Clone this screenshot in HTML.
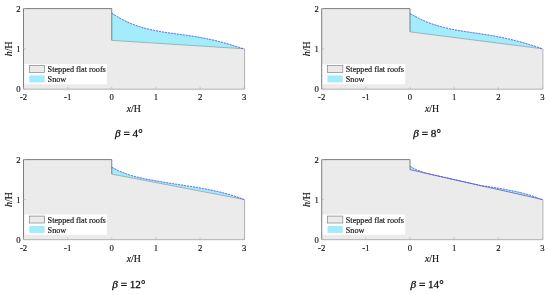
<!DOCTYPE html>
<html><head><meta charset="utf-8"><style>
html,body{margin:0;padding:0;background:#fff;width:550px;height:295px;overflow:hidden}
svg{display:block;filter:blur(0.3px)}
svg text{fill:#111;stroke:#111;stroke-width:0.15px}
</style></head><body>
<svg width="550" height="295" viewBox="0 0 550 295" font-family='"Liberation Serif", "Times New Roman", serif' fill="#262626"><g>
<rect x="23.5" y="8.6" width="220.7" height="80.4" fill="#fff"/>
<polygon points="23.50,89.00 23.50,8.60 111.78,8.60 111.78,40.37 244.20,48.80 244.20,89.00" fill="#ebebeb" stroke="none"/>
<polygon points="111.78,13.11 112.33,13.48 112.88,13.85 113.44,14.22 113.99,14.58 114.54,14.94 115.09,15.29 115.64,15.63 116.19,15.97 116.75,16.31 117.30,16.64 117.85,16.97 118.40,17.29 118.95,17.61 119.50,17.93 120.06,18.23 120.61,18.54 121.16,18.84 121.71,19.14 122.26,19.43 122.81,19.72 123.37,20.00 123.92,20.28 124.47,20.55 125.02,20.82 125.57,21.09 126.13,21.35 126.68,21.61 127.23,21.87 127.78,22.12 128.33,22.37 128.88,22.61 129.44,22.85 129.99,23.09 130.54,23.32 131.09,23.55 131.64,23.77 132.19,23.99 132.75,24.21 133.30,24.43 133.85,24.64 134.40,24.85 134.95,25.05 135.51,25.25 136.06,25.45 136.61,25.64 137.16,25.83 137.71,26.02 138.26,26.21 138.82,26.39 139.37,26.57 139.92,26.75 140.47,26.92 141.02,27.09 141.57,27.26 142.13,27.42 142.68,27.59 143.23,27.74 143.78,27.90 144.33,28.06 144.88,28.21 145.44,28.36 145.99,28.50 146.54,28.65 147.09,28.79 147.64,28.93 148.20,29.06 148.75,29.20 149.30,29.33 149.85,29.46 150.40,29.59 150.95,29.72 151.51,29.84 152.06,29.96 152.61,30.08 153.16,30.20 153.71,30.31 154.26,30.43 154.82,30.54 155.37,30.65 155.92,30.76 156.47,30.87 157.02,30.97 157.58,31.08 158.13,31.18 158.68,31.28 159.23,31.38 159.78,31.48 160.33,31.57 160.89,31.67 161.44,31.76 161.99,31.85 162.54,31.94 163.09,32.03 163.64,32.12 164.20,32.21 164.75,32.30 165.30,32.38 165.85,32.47 166.40,32.55 166.96,32.63 167.51,32.71 168.06,32.79 168.61,32.87 169.16,32.95 169.71,33.03 170.27,33.11 170.82,33.19 171.37,33.26 171.92,33.34 172.47,33.42 173.02,33.49 173.58,33.57 174.13,33.64 174.68,33.72 175.23,33.79 175.78,33.86 176.33,33.94 176.89,34.01 177.44,34.08 177.99,34.16 178.54,34.23 179.09,34.30 179.65,34.38 180.20,34.45 180.75,34.52 181.30,34.60 181.85,34.67 182.40,34.75 182.96,34.82 183.51,34.89 184.06,34.97 184.61,35.05 185.16,35.12 185.71,35.20 186.27,35.28 186.82,35.35 187.37,35.43 187.92,35.51 188.47,35.59 189.03,35.67 189.58,35.75 190.13,35.83 190.68,35.92 191.23,36.00 191.78,36.09 192.34,36.17 192.89,36.26 193.44,36.34 193.99,36.43 194.54,36.52 195.09,36.61 195.65,36.70 196.20,36.79 196.75,36.88 197.30,36.98 197.85,37.07 198.40,37.16 198.96,37.26 199.51,37.36 200.06,37.46 200.61,37.55 201.16,37.65 201.72,37.75 202.27,37.86 202.82,37.96 203.37,38.06 203.92,38.17 204.47,38.27 205.03,38.38 205.58,38.49 206.13,38.60 206.68,38.71 207.23,38.82 207.78,38.93 208.34,39.05 208.89,39.16 209.44,39.28 209.99,39.39 210.54,39.51 211.09,39.63 211.65,39.75 212.20,39.87 212.75,40.00 213.30,40.12 213.85,40.25 214.41,40.37 214.96,40.50 215.51,40.63 216.06,40.76 216.61,40.90 217.16,41.03 217.72,41.16 218.27,41.30 218.82,41.44 219.37,41.58 219.92,41.72 220.47,41.86 221.03,42.00 221.58,42.15 222.13,42.29 222.68,42.44 223.23,42.59 223.79,42.74 224.34,42.89 224.89,43.04 225.44,43.20 225.99,43.36 226.54,43.51 227.10,43.67 227.65,43.83 228.20,44.00 228.75,44.16 229.30,44.33 229.85,44.49 230.41,44.66 230.96,44.83 231.51,45.00 232.06,45.18 232.61,45.35 233.16,45.53 233.72,45.70 234.27,45.88 234.82,46.06 235.37,46.24 235.92,46.41 236.48,46.59 237.03,46.77 237.58,46.94 238.13,47.11 238.68,47.28 239.23,47.45 239.79,47.62 240.34,47.78 240.89,47.94 241.44,48.10 241.99,48.25 242.54,48.40 243.10,48.54 243.65,48.68 244.20,48.80 244.20,48.80 111.78,40.37" fill="#a2ecfb" stroke="none"/>
<polyline points="23.50,89.00 23.50,8.60 111.78,8.60 111.78,40.37" fill="none" stroke="#707070" stroke-width="0.9"/>
<line x1="111.78" y1="40.37" x2="244.20" y2="48.80" stroke="#84a2a8" stroke-width="0.75"/>
<polyline points="244.60,48.80 244.60,89.20 23.50,89.20" fill="none" stroke="#a8a8a8" stroke-width="0.9"/>
<polyline points="111.78,13.11 112.33,13.48 112.88,13.85 113.44,14.22 113.99,14.58 114.54,14.94 115.09,15.29 115.64,15.63 116.19,15.97 116.75,16.31 117.30,16.64 117.85,16.97 118.40,17.29 118.95,17.61 119.50,17.93 120.06,18.23 120.61,18.54 121.16,18.84 121.71,19.14 122.26,19.43 122.81,19.72 123.37,20.00 123.92,20.28 124.47,20.55 125.02,20.82 125.57,21.09 126.13,21.35 126.68,21.61 127.23,21.87 127.78,22.12 128.33,22.37 128.88,22.61 129.44,22.85 129.99,23.09 130.54,23.32 131.09,23.55 131.64,23.77 132.19,23.99 132.75,24.21 133.30,24.43 133.85,24.64 134.40,24.85 134.95,25.05 135.51,25.25 136.06,25.45 136.61,25.64 137.16,25.83 137.71,26.02 138.26,26.21 138.82,26.39 139.37,26.57 139.92,26.75 140.47,26.92 141.02,27.09 141.57,27.26 142.13,27.42 142.68,27.59 143.23,27.74 143.78,27.90 144.33,28.06 144.88,28.21 145.44,28.36 145.99,28.50 146.54,28.65 147.09,28.79 147.64,28.93 148.20,29.06 148.75,29.20 149.30,29.33 149.85,29.46 150.40,29.59 150.95,29.72 151.51,29.84 152.06,29.96 152.61,30.08 153.16,30.20 153.71,30.31 154.26,30.43 154.82,30.54 155.37,30.65 155.92,30.76 156.47,30.87 157.02,30.97 157.58,31.08 158.13,31.18 158.68,31.28 159.23,31.38 159.78,31.48 160.33,31.57 160.89,31.67 161.44,31.76 161.99,31.85 162.54,31.94 163.09,32.03 163.64,32.12 164.20,32.21 164.75,32.30 165.30,32.38 165.85,32.47 166.40,32.55 166.96,32.63 167.51,32.71 168.06,32.79 168.61,32.87 169.16,32.95 169.71,33.03 170.27,33.11 170.82,33.19 171.37,33.26 171.92,33.34 172.47,33.42 173.02,33.49 173.58,33.57 174.13,33.64 174.68,33.72 175.23,33.79 175.78,33.86 176.33,33.94 176.89,34.01 177.44,34.08 177.99,34.16 178.54,34.23 179.09,34.30 179.65,34.38 180.20,34.45 180.75,34.52 181.30,34.60 181.85,34.67 182.40,34.75 182.96,34.82 183.51,34.89 184.06,34.97 184.61,35.05 185.16,35.12 185.71,35.20 186.27,35.28 186.82,35.35 187.37,35.43 187.92,35.51 188.47,35.59 189.03,35.67 189.58,35.75 190.13,35.83 190.68,35.92 191.23,36.00 191.78,36.09 192.34,36.17 192.89,36.26 193.44,36.34 193.99,36.43 194.54,36.52 195.09,36.61 195.65,36.70 196.20,36.79 196.75,36.88 197.30,36.98 197.85,37.07 198.40,37.16 198.96,37.26 199.51,37.36 200.06,37.46 200.61,37.55 201.16,37.65 201.72,37.75 202.27,37.86 202.82,37.96 203.37,38.06 203.92,38.17 204.47,38.27 205.03,38.38 205.58,38.49 206.13,38.60 206.68,38.71 207.23,38.82 207.78,38.93 208.34,39.05 208.89,39.16 209.44,39.28 209.99,39.39 210.54,39.51 211.09,39.63 211.65,39.75 212.20,39.87 212.75,40.00 213.30,40.12 213.85,40.25 214.41,40.37 214.96,40.50 215.51,40.63 216.06,40.76 216.61,40.90 217.16,41.03 217.72,41.16 218.27,41.30 218.82,41.44 219.37,41.58 219.92,41.72 220.47,41.86 221.03,42.00 221.58,42.15 222.13,42.29 222.68,42.44 223.23,42.59 223.79,42.74 224.34,42.89 224.89,43.04 225.44,43.20 225.99,43.36 226.54,43.51 227.10,43.67 227.65,43.83 228.20,44.00 228.75,44.16 229.30,44.33 229.85,44.49 230.41,44.66 230.96,44.83 231.51,45.00 232.06,45.18 232.61,45.35 233.16,45.53 233.72,45.70 234.27,45.88 234.82,46.06 235.37,46.24 235.92,46.41 236.48,46.59 237.03,46.77 237.58,46.94 238.13,47.11 238.68,47.28 239.23,47.45 239.79,47.62 240.34,47.78 240.89,47.94 241.44,48.10 241.99,48.25 242.54,48.40 243.10,48.54 243.65,48.68 244.20,48.80" fill="none" stroke="#4a4ae6" stroke-width="1.0" stroke-dasharray="2,1"/>
<line x1="23.50" y1="89.0" x2="23.50" y2="86.8" stroke="#b0b0b0" stroke-width="0.6"/>
<line x1="67.64" y1="89.0" x2="67.64" y2="86.8" stroke="#b0b0b0" stroke-width="0.6"/>
<line x1="111.78" y1="89.0" x2="111.78" y2="86.8" stroke="#b0b0b0" stroke-width="0.6"/>
<line x1="155.92" y1="89.0" x2="155.92" y2="86.8" stroke="#b0b0b0" stroke-width="0.6"/>
<line x1="200.06" y1="89.0" x2="200.06" y2="86.8" stroke="#b0b0b0" stroke-width="0.6"/>
<line x1="244.20" y1="89.0" x2="244.20" y2="86.8" stroke="#b0b0b0" stroke-width="0.6"/>
<line x1="23.5" y1="89.00" x2="25.7" y2="89.00" stroke="#b0b0b0" stroke-width="0.6"/>
<line x1="23.5" y1="48.80" x2="25.7" y2="48.80" stroke="#b0b0b0" stroke-width="0.6"/>
<line x1="23.5" y1="8.60" x2="25.7" y2="8.60" stroke="#b0b0b0" stroke-width="0.6"/>
<rect x="24.50" y="64.00" width="82.5" height="20.3" fill="#fff" stroke="none"/>
<rect x="29.30" y="65.60" width="15.3" height="6.9" fill="#ebebeb" stroke="#858585" stroke-width="0.7"/>
<rect x="29.30" y="75.40" width="15.3" height="7.0" fill="#a2ecfb" stroke="none"/>
<text x="47.60" y="72.30" font-size="8.2">Stepped flat roofs</text>
<text x="47.60" y="82.00" font-size="8.2">Snow</text>
<text x="23.50" y="100.40" font-size="8.7" text-anchor="middle">-2</text>
<text x="67.64" y="100.40" font-size="8.7" text-anchor="middle">-1</text>
<text x="111.78" y="100.40" font-size="8.7" text-anchor="middle">0</text>
<text x="155.92" y="100.40" font-size="8.7" text-anchor="middle">1</text>
<text x="200.06" y="100.40" font-size="8.7" text-anchor="middle">2</text>
<text x="244.20" y="100.40" font-size="8.7" text-anchor="middle">3</text>
<text x="20.70" y="92.35" font-size="8.7" text-anchor="end">0</text>
<text x="20.70" y="52.15" font-size="8.7" text-anchor="end">1</text>
<text x="20.70" y="11.95" font-size="8.7" text-anchor="end">2</text>
<text x="133.85" y="111.50" font-size="9.8" text-anchor="middle"><tspan font-style="italic">x</tspan>/H</text>
<text transform="translate(11.90,48.80) rotate(-90)" font-size="9.8" text-anchor="middle"><tspan font-style="italic">h</tspan>/H</text>
<text x="128.85" y="137.30" font-size="11.2" text-anchor="middle" style="stroke-width:0.3px"><tspan font-style="italic">β</tspan> = 4°</text>
</g>
<g>
<rect x="321.7" y="8.6" width="220.8" height="80.4" fill="#fff"/>
<polygon points="321.70,89.00 321.70,8.60 410.02,8.60 410.02,31.85 542.50,48.80 542.50,89.00" fill="#ebebeb" stroke="none"/>
<polygon points="410.02,13.51 410.57,13.85 411.12,14.18 411.68,14.51 412.23,14.83 412.78,15.15 413.33,15.47 413.88,15.78 414.44,16.09 414.99,16.39 415.54,16.69 416.09,16.98 416.64,17.27 417.20,17.56 417.75,17.84 418.30,18.12 418.85,18.40 419.40,18.67 419.96,18.93 420.51,19.20 421.06,19.46 421.61,19.71 422.16,19.97 422.72,20.21 423.27,20.46 423.82,20.70 424.37,20.94 424.92,21.17 425.48,21.41 426.03,21.63 426.58,21.86 427.13,22.08 427.68,22.30 428.24,22.51 428.79,22.72 429.34,22.93 429.89,23.14 430.44,23.34 431.00,23.54 431.55,23.74 432.10,23.93 432.65,24.12 433.20,24.31 433.76,24.49 434.31,24.67 434.86,24.85 435.41,25.03 435.96,25.20 436.52,25.37 437.07,25.54 437.62,25.71 438.17,25.87 438.72,26.03 439.28,26.19 439.83,26.35 440.38,26.50 440.93,26.65 441.48,26.80 442.04,26.95 442.59,27.09 443.14,27.23 443.69,27.37 444.24,27.51 444.80,27.65 445.35,27.78 445.90,27.91 446.45,28.04 447.00,28.17 447.56,28.29 448.11,28.42 448.66,28.54 449.21,28.66 449.76,28.78 450.32,28.90 450.87,29.01 451.42,29.13 451.97,29.24 452.52,29.35 453.08,29.46 453.63,29.56 454.18,29.67 454.73,29.78 455.28,29.88 455.84,29.98 456.39,30.08 456.94,30.18 457.49,30.28 458.04,30.38 458.60,30.47 459.15,30.57 459.70,30.66 460.25,30.75 460.80,30.85 461.36,30.94 461.91,31.03 462.46,31.12 463.01,31.20 463.56,31.29 464.12,31.38 464.67,31.47 465.22,31.55 465.77,31.64 466.32,31.72 466.88,31.80 467.43,31.89 467.98,31.97 468.53,32.05 469.08,32.13 469.64,32.21 470.19,32.30 470.74,32.38 471.29,32.46 471.84,32.54 472.40,32.62 472.95,32.70 473.50,32.78 474.05,32.86 474.60,32.94 475.16,33.02 475.71,33.10 476.26,33.18 476.81,33.26 477.36,33.34 477.92,33.42 478.47,33.50 479.02,33.58 479.57,33.66 480.12,33.74 480.68,33.82 481.23,33.90 481.78,33.99 482.33,34.07 482.88,34.15 483.44,34.24 483.99,34.32 484.54,34.41 485.09,34.50 485.64,34.58 486.20,34.67 486.75,34.76 487.30,34.85 487.85,34.94 488.40,35.03 488.96,35.12 489.51,35.22 490.06,35.31 490.61,35.40 491.16,35.50 491.72,35.60 492.27,35.69 492.82,35.79 493.37,35.89 493.92,35.99 494.48,36.09 495.03,36.19 495.58,36.29 496.13,36.40 496.68,36.50 497.24,36.61 497.79,36.71 498.34,36.82 498.89,36.93 499.44,37.04 500.00,37.15 500.55,37.26 501.10,37.37 501.65,37.48 502.20,37.59 502.76,37.71 503.31,37.82 503.86,37.94 504.41,38.06 504.96,38.18 505.52,38.30 506.07,38.42 506.62,38.54 507.17,38.66 507.72,38.78 508.28,38.91 508.83,39.03 509.38,39.16 509.93,39.29 510.48,39.42 511.04,39.55 511.59,39.68 512.14,39.81 512.69,39.94 513.24,40.08 513.80,40.21 514.35,40.35 514.90,40.49 515.45,40.63 516.00,40.77 516.56,40.91 517.11,41.05 517.66,41.19 518.21,41.34 518.76,41.48 519.32,41.63 519.87,41.78 520.42,41.93 520.97,42.08 521.52,42.23 522.08,42.38 522.63,42.53 523.18,42.69 523.73,42.84 524.28,43.00 524.84,43.16 525.39,43.32 525.94,43.48 526.49,43.64 527.04,43.81 527.60,43.97 528.15,44.14 528.70,44.30 529.25,44.47 529.80,44.64 530.36,44.81 530.91,44.98 531.46,45.16 532.01,45.33 532.56,45.51 533.12,45.68 533.67,45.86 534.22,46.04 534.77,46.22 535.32,46.40 535.88,46.58 536.43,46.76 536.98,46.95 537.53,47.13 538.08,47.32 538.64,47.50 539.19,47.69 539.74,47.87 540.29,48.06 540.84,48.25 541.40,48.44 541.95,48.63 542.50,48.80 542.50,48.80 410.02,31.85" fill="#a2ecfb" stroke="none"/>
<polyline points="321.70,89.00 321.70,8.60 410.02,8.60 410.02,31.85" fill="none" stroke="#707070" stroke-width="0.9"/>
<line x1="410.02" y1="31.85" x2="542.50" y2="48.80" stroke="#84a2a8" stroke-width="0.75"/>
<polyline points="542.90,48.80 542.90,89.20 321.70,89.20" fill="none" stroke="#a8a8a8" stroke-width="0.9"/>
<polyline points="410.02,13.51 410.57,13.85 411.12,14.18 411.68,14.51 412.23,14.83 412.78,15.15 413.33,15.47 413.88,15.78 414.44,16.09 414.99,16.39 415.54,16.69 416.09,16.98 416.64,17.27 417.20,17.56 417.75,17.84 418.30,18.12 418.85,18.40 419.40,18.67 419.96,18.93 420.51,19.20 421.06,19.46 421.61,19.71 422.16,19.97 422.72,20.21 423.27,20.46 423.82,20.70 424.37,20.94 424.92,21.17 425.48,21.41 426.03,21.63 426.58,21.86 427.13,22.08 427.68,22.30 428.24,22.51 428.79,22.72 429.34,22.93 429.89,23.14 430.44,23.34 431.00,23.54 431.55,23.74 432.10,23.93 432.65,24.12 433.20,24.31 433.76,24.49 434.31,24.67 434.86,24.85 435.41,25.03 435.96,25.20 436.52,25.37 437.07,25.54 437.62,25.71 438.17,25.87 438.72,26.03 439.28,26.19 439.83,26.35 440.38,26.50 440.93,26.65 441.48,26.80 442.04,26.95 442.59,27.09 443.14,27.23 443.69,27.37 444.24,27.51 444.80,27.65 445.35,27.78 445.90,27.91 446.45,28.04 447.00,28.17 447.56,28.29 448.11,28.42 448.66,28.54 449.21,28.66 449.76,28.78 450.32,28.90 450.87,29.01 451.42,29.13 451.97,29.24 452.52,29.35 453.08,29.46 453.63,29.56 454.18,29.67 454.73,29.78 455.28,29.88 455.84,29.98 456.39,30.08 456.94,30.18 457.49,30.28 458.04,30.38 458.60,30.47 459.15,30.57 459.70,30.66 460.25,30.75 460.80,30.85 461.36,30.94 461.91,31.03 462.46,31.12 463.01,31.20 463.56,31.29 464.12,31.38 464.67,31.47 465.22,31.55 465.77,31.64 466.32,31.72 466.88,31.80 467.43,31.89 467.98,31.97 468.53,32.05 469.08,32.13 469.64,32.21 470.19,32.30 470.74,32.38 471.29,32.46 471.84,32.54 472.40,32.62 472.95,32.70 473.50,32.78 474.05,32.86 474.60,32.94 475.16,33.02 475.71,33.10 476.26,33.18 476.81,33.26 477.36,33.34 477.92,33.42 478.47,33.50 479.02,33.58 479.57,33.66 480.12,33.74 480.68,33.82 481.23,33.90 481.78,33.99 482.33,34.07 482.88,34.15 483.44,34.24 483.99,34.32 484.54,34.41 485.09,34.50 485.64,34.58 486.20,34.67 486.75,34.76 487.30,34.85 487.85,34.94 488.40,35.03 488.96,35.12 489.51,35.22 490.06,35.31 490.61,35.40 491.16,35.50 491.72,35.60 492.27,35.69 492.82,35.79 493.37,35.89 493.92,35.99 494.48,36.09 495.03,36.19 495.58,36.29 496.13,36.40 496.68,36.50 497.24,36.61 497.79,36.71 498.34,36.82 498.89,36.93 499.44,37.04 500.00,37.15 500.55,37.26 501.10,37.37 501.65,37.48 502.20,37.59 502.76,37.71 503.31,37.82 503.86,37.94 504.41,38.06 504.96,38.18 505.52,38.30 506.07,38.42 506.62,38.54 507.17,38.66 507.72,38.78 508.28,38.91 508.83,39.03 509.38,39.16 509.93,39.29 510.48,39.42 511.04,39.55 511.59,39.68 512.14,39.81 512.69,39.94 513.24,40.08 513.80,40.21 514.35,40.35 514.90,40.49 515.45,40.63 516.00,40.77 516.56,40.91 517.11,41.05 517.66,41.19 518.21,41.34 518.76,41.48 519.32,41.63 519.87,41.78 520.42,41.93 520.97,42.08 521.52,42.23 522.08,42.38 522.63,42.53 523.18,42.69 523.73,42.84 524.28,43.00 524.84,43.16 525.39,43.32 525.94,43.48 526.49,43.64 527.04,43.81 527.60,43.97 528.15,44.14 528.70,44.30 529.25,44.47 529.80,44.64 530.36,44.81 530.91,44.98 531.46,45.16 532.01,45.33 532.56,45.51 533.12,45.68 533.67,45.86 534.22,46.04 534.77,46.22 535.32,46.40 535.88,46.58 536.43,46.76 536.98,46.95 537.53,47.13 538.08,47.32 538.64,47.50 539.19,47.69 539.74,47.87 540.29,48.06 540.84,48.25 541.40,48.44 541.95,48.63 542.50,48.80" fill="none" stroke="#4a4ae6" stroke-width="1.0" stroke-dasharray="2,1"/>
<line x1="321.70" y1="89.0" x2="321.70" y2="86.8" stroke="#b0b0b0" stroke-width="0.6"/>
<line x1="365.86" y1="89.0" x2="365.86" y2="86.8" stroke="#b0b0b0" stroke-width="0.6"/>
<line x1="410.02" y1="89.0" x2="410.02" y2="86.8" stroke="#b0b0b0" stroke-width="0.6"/>
<line x1="454.18" y1="89.0" x2="454.18" y2="86.8" stroke="#b0b0b0" stroke-width="0.6"/>
<line x1="498.34" y1="89.0" x2="498.34" y2="86.8" stroke="#b0b0b0" stroke-width="0.6"/>
<line x1="542.50" y1="89.0" x2="542.50" y2="86.8" stroke="#b0b0b0" stroke-width="0.6"/>
<line x1="321.7" y1="89.00" x2="323.9" y2="89.00" stroke="#b0b0b0" stroke-width="0.6"/>
<line x1="321.7" y1="48.80" x2="323.9" y2="48.80" stroke="#b0b0b0" stroke-width="0.6"/>
<line x1="321.7" y1="8.60" x2="323.9" y2="8.60" stroke="#b0b0b0" stroke-width="0.6"/>
<rect x="322.70" y="64.00" width="82.5" height="20.3" fill="#fff" stroke="none"/>
<rect x="327.50" y="65.60" width="15.3" height="6.9" fill="#ebebeb" stroke="#858585" stroke-width="0.7"/>
<rect x="327.50" y="75.40" width="15.3" height="7.0" fill="#a2ecfb" stroke="none"/>
<text x="345.80" y="72.30" font-size="8.2">Stepped flat roofs</text>
<text x="345.80" y="82.00" font-size="8.2">Snow</text>
<text x="321.70" y="100.40" font-size="8.7" text-anchor="middle">-2</text>
<text x="365.86" y="100.40" font-size="8.7" text-anchor="middle">-1</text>
<text x="410.02" y="100.40" font-size="8.7" text-anchor="middle">0</text>
<text x="454.18" y="100.40" font-size="8.7" text-anchor="middle">1</text>
<text x="498.34" y="100.40" font-size="8.7" text-anchor="middle">2</text>
<text x="542.50" y="100.40" font-size="8.7" text-anchor="middle">3</text>
<text x="318.90" y="92.35" font-size="8.7" text-anchor="end">0</text>
<text x="318.90" y="52.15" font-size="8.7" text-anchor="end">1</text>
<text x="318.90" y="11.95" font-size="8.7" text-anchor="end">2</text>
<text x="432.10" y="111.50" font-size="9.8" text-anchor="middle"><tspan font-style="italic">x</tspan>/H</text>
<text transform="translate(310.10,48.80) rotate(-90)" font-size="9.8" text-anchor="middle"><tspan font-style="italic">h</tspan>/H</text>
<text x="427.10" y="137.30" font-size="11.2" text-anchor="middle" style="stroke-width:0.3px"><tspan font-style="italic">β</tspan> = 8°</text>
</g>
<g>
<rect x="23.5" y="159.6" width="220.7" height="79.9" fill="#fff"/>
<polygon points="23.50,239.50 23.50,159.60 111.78,159.60 111.78,174.08 244.20,199.55 244.20,239.50" fill="#ebebeb" stroke="none"/>
<polygon points="111.78,167.20 112.33,167.52 112.88,167.83 113.44,168.14 113.99,168.44 114.54,168.73 115.09,169.02 115.64,169.31 116.19,169.58 116.75,169.86 117.30,170.13 117.85,170.39 118.40,170.65 118.95,170.90 119.50,171.15 120.06,171.40 120.61,171.64 121.16,171.87 121.71,172.10 122.26,172.33 122.81,172.55 123.37,172.77 123.92,172.98 124.47,173.19 125.02,173.40 125.57,173.60 126.13,173.80 126.68,173.99 127.23,174.18 127.78,174.37 128.33,174.55 128.88,174.73 129.44,174.91 129.99,175.08 130.54,175.25 131.09,175.42 131.64,175.58 132.19,175.75 132.75,175.90 133.30,176.06 133.85,176.21 134.40,176.36 134.95,176.51 135.51,176.65 136.06,176.79 136.61,176.93 137.16,177.07 137.71,177.21 138.26,177.34 138.82,177.47 139.37,177.60 139.92,177.73 140.47,177.85 141.02,177.98 141.57,178.10 142.13,178.22 142.68,178.34 143.23,178.46 143.78,178.57 144.33,178.69 144.88,178.80 145.44,178.92 145.99,179.03 146.54,179.14 147.09,179.25 147.64,179.36 148.20,179.47 148.75,179.57 149.30,179.68 149.85,179.79 150.40,179.89 150.95,180.00 151.51,180.10 152.06,180.20 152.61,180.31 153.16,180.41 153.71,180.51 154.26,180.61 154.82,180.71 155.37,180.81 155.92,180.90 156.47,181.00 157.02,181.10 157.58,181.20 158.13,181.29 158.68,181.39 159.23,181.48 159.78,181.58 160.33,181.67 160.89,181.76 161.44,181.86 161.99,181.95 162.54,182.04 163.09,182.13 163.64,182.22 164.20,182.31 164.75,182.40 165.30,182.49 165.85,182.58 166.40,182.67 166.96,182.76 167.51,182.85 168.06,182.94 168.61,183.02 169.16,183.11 169.71,183.20 170.27,183.28 170.82,183.37 171.37,183.46 171.92,183.54 172.47,183.63 173.02,183.72 173.58,183.80 174.13,183.89 174.68,183.97 175.23,184.06 175.78,184.14 176.33,184.23 176.89,184.31 177.44,184.40 177.99,184.48 178.54,184.57 179.09,184.65 179.65,184.74 180.20,184.82 180.75,184.91 181.30,184.99 181.85,185.07 182.40,185.16 182.96,185.24 183.51,185.33 184.06,185.41 184.61,185.50 185.16,185.59 185.71,185.67 186.27,185.76 186.82,185.84 187.37,185.93 187.92,186.01 188.47,186.10 189.03,186.19 189.58,186.27 190.13,186.36 190.68,186.45 191.23,186.54 191.78,186.63 192.34,186.71 192.89,186.80 193.44,186.89 193.99,186.98 194.54,187.07 195.09,187.16 195.65,187.26 196.20,187.35 196.75,187.44 197.30,187.53 197.85,187.63 198.40,187.72 198.96,187.82 199.51,187.91 200.06,188.01 200.61,188.10 201.16,188.20 201.72,188.30 202.27,188.40 202.82,188.50 203.37,188.60 203.92,188.70 204.47,188.80 205.03,188.91 205.58,189.01 206.13,189.11 206.68,189.22 207.23,189.33 207.78,189.43 208.34,189.54 208.89,189.65 209.44,189.76 209.99,189.87 210.54,189.98 211.09,190.10 211.65,190.21 212.20,190.33 212.75,190.44 213.30,190.56 213.85,190.68 214.41,190.80 214.96,190.92 215.51,191.04 216.06,191.17 216.61,191.29 217.16,191.42 217.72,191.54 218.27,191.67 218.82,191.80 219.37,191.93 219.92,192.07 220.47,192.20 221.03,192.34 221.58,192.47 222.13,192.61 222.68,192.75 223.23,192.89 223.79,193.04 224.34,193.18 224.89,193.33 225.44,193.47 225.99,193.62 226.54,193.77 227.10,193.92 227.65,194.08 228.20,194.23 228.75,194.39 229.30,194.55 229.85,194.71 230.41,194.87 230.96,195.04 231.51,195.20 232.06,195.37 232.61,195.54 233.16,195.71 233.72,195.88 234.27,196.06 234.82,196.23 235.37,196.41 235.92,196.59 236.48,196.78 237.03,196.96 237.58,197.15 238.13,197.34 238.68,197.53 239.23,197.72 239.79,197.91 240.34,198.11 240.89,198.31 241.44,198.51 241.99,198.71 242.54,198.92 243.10,199.13 243.65,199.34 244.20,199.55 244.20,199.55 111.78,174.08" fill="#a2ecfb" stroke="none"/>
<polyline points="23.50,239.50 23.50,159.60 111.78,159.60 111.78,174.08" fill="none" stroke="#707070" stroke-width="0.9"/>
<line x1="111.78" y1="174.08" x2="244.20" y2="199.55" stroke="#84a2a8" stroke-width="0.75"/>
<polyline points="244.60,199.55 244.60,239.70 23.50,239.70" fill="none" stroke="#a8a8a8" stroke-width="0.9"/>
<polyline points="111.78,167.20 112.33,167.52 112.88,167.83 113.44,168.14 113.99,168.44 114.54,168.73 115.09,169.02 115.64,169.31 116.19,169.58 116.75,169.86 117.30,170.13 117.85,170.39 118.40,170.65 118.95,170.90 119.50,171.15 120.06,171.40 120.61,171.64 121.16,171.87 121.71,172.10 122.26,172.33 122.81,172.55 123.37,172.77 123.92,172.98 124.47,173.19 125.02,173.40 125.57,173.60 126.13,173.80 126.68,173.99 127.23,174.18 127.78,174.37 128.33,174.55 128.88,174.73 129.44,174.91 129.99,175.08 130.54,175.25 131.09,175.42 131.64,175.58 132.19,175.75 132.75,175.90 133.30,176.06 133.85,176.21 134.40,176.36 134.95,176.51 135.51,176.65 136.06,176.79 136.61,176.93 137.16,177.07 137.71,177.21 138.26,177.34 138.82,177.47 139.37,177.60 139.92,177.73 140.47,177.85 141.02,177.98 141.57,178.10 142.13,178.22 142.68,178.34 143.23,178.46 143.78,178.57 144.33,178.69 144.88,178.80 145.44,178.92 145.99,179.03 146.54,179.14 147.09,179.25 147.64,179.36 148.20,179.47 148.75,179.57 149.30,179.68 149.85,179.79 150.40,179.89 150.95,180.00 151.51,180.10 152.06,180.20 152.61,180.31 153.16,180.41 153.71,180.51 154.26,180.61 154.82,180.71 155.37,180.81 155.92,180.90 156.47,181.00 157.02,181.10 157.58,181.20 158.13,181.29 158.68,181.39 159.23,181.48 159.78,181.58 160.33,181.67 160.89,181.76 161.44,181.86 161.99,181.95 162.54,182.04 163.09,182.13 163.64,182.22 164.20,182.31 164.75,182.40 165.30,182.49 165.85,182.58 166.40,182.67 166.96,182.76 167.51,182.85 168.06,182.94 168.61,183.02 169.16,183.11 169.71,183.20 170.27,183.28 170.82,183.37 171.37,183.46 171.92,183.54 172.47,183.63 173.02,183.72 173.58,183.80 174.13,183.89 174.68,183.97 175.23,184.06 175.78,184.14 176.33,184.23 176.89,184.31 177.44,184.40 177.99,184.48 178.54,184.57 179.09,184.65 179.65,184.74 180.20,184.82 180.75,184.91 181.30,184.99 181.85,185.07 182.40,185.16 182.96,185.24 183.51,185.33 184.06,185.41 184.61,185.50 185.16,185.59 185.71,185.67 186.27,185.76 186.82,185.84 187.37,185.93 187.92,186.01 188.47,186.10 189.03,186.19 189.58,186.27 190.13,186.36 190.68,186.45 191.23,186.54 191.78,186.63 192.34,186.71 192.89,186.80 193.44,186.89 193.99,186.98 194.54,187.07 195.09,187.16 195.65,187.26 196.20,187.35 196.75,187.44 197.30,187.53 197.85,187.63 198.40,187.72 198.96,187.82 199.51,187.91 200.06,188.01 200.61,188.10 201.16,188.20 201.72,188.30 202.27,188.40 202.82,188.50 203.37,188.60 203.92,188.70 204.47,188.80 205.03,188.91 205.58,189.01 206.13,189.11 206.68,189.22 207.23,189.33 207.78,189.43 208.34,189.54 208.89,189.65 209.44,189.76 209.99,189.87 210.54,189.98 211.09,190.10 211.65,190.21 212.20,190.33 212.75,190.44 213.30,190.56 213.85,190.68 214.41,190.80 214.96,190.92 215.51,191.04 216.06,191.17 216.61,191.29 217.16,191.42 217.72,191.54 218.27,191.67 218.82,191.80 219.37,191.93 219.92,192.07 220.47,192.20 221.03,192.34 221.58,192.47 222.13,192.61 222.68,192.75 223.23,192.89 223.79,193.04 224.34,193.18 224.89,193.33 225.44,193.47 225.99,193.62 226.54,193.77 227.10,193.92 227.65,194.08 228.20,194.23 228.75,194.39 229.30,194.55 229.85,194.71 230.41,194.87 230.96,195.04 231.51,195.20 232.06,195.37 232.61,195.54 233.16,195.71 233.72,195.88 234.27,196.06 234.82,196.23 235.37,196.41 235.92,196.59 236.48,196.78 237.03,196.96 237.58,197.15 238.13,197.34 238.68,197.53 239.23,197.72 239.79,197.91 240.34,198.11 240.89,198.31 241.44,198.51 241.99,198.71 242.54,198.92 243.10,199.13 243.65,199.34 244.20,199.55" fill="none" stroke="#4a4ae6" stroke-width="1.0" stroke-dasharray="2,1"/>
<line x1="23.50" y1="239.5" x2="23.50" y2="237.3" stroke="#b0b0b0" stroke-width="0.6"/>
<line x1="67.64" y1="239.5" x2="67.64" y2="237.3" stroke="#b0b0b0" stroke-width="0.6"/>
<line x1="111.78" y1="239.5" x2="111.78" y2="237.3" stroke="#b0b0b0" stroke-width="0.6"/>
<line x1="155.92" y1="239.5" x2="155.92" y2="237.3" stroke="#b0b0b0" stroke-width="0.6"/>
<line x1="200.06" y1="239.5" x2="200.06" y2="237.3" stroke="#b0b0b0" stroke-width="0.6"/>
<line x1="244.20" y1="239.5" x2="244.20" y2="237.3" stroke="#b0b0b0" stroke-width="0.6"/>
<line x1="23.5" y1="239.50" x2="25.7" y2="239.50" stroke="#b0b0b0" stroke-width="0.6"/>
<line x1="23.5" y1="199.55" x2="25.7" y2="199.55" stroke="#b0b0b0" stroke-width="0.6"/>
<line x1="23.5" y1="159.60" x2="25.7" y2="159.60" stroke="#b0b0b0" stroke-width="0.6"/>
<rect x="24.50" y="214.50" width="82.5" height="20.3" fill="#fff" stroke="none"/>
<rect x="29.30" y="216.10" width="15.3" height="6.9" fill="#ebebeb" stroke="#858585" stroke-width="0.7"/>
<rect x="29.30" y="225.90" width="15.3" height="7.0" fill="#a2ecfb" stroke="none"/>
<text x="47.60" y="222.80" font-size="8.2">Stepped flat roofs</text>
<text x="47.60" y="232.50" font-size="8.2">Snow</text>
<text x="23.50" y="250.90" font-size="8.7" text-anchor="middle">-2</text>
<text x="67.64" y="250.90" font-size="8.7" text-anchor="middle">-1</text>
<text x="111.78" y="250.90" font-size="8.7" text-anchor="middle">0</text>
<text x="155.92" y="250.90" font-size="8.7" text-anchor="middle">1</text>
<text x="200.06" y="250.90" font-size="8.7" text-anchor="middle">2</text>
<text x="244.20" y="250.90" font-size="8.7" text-anchor="middle">3</text>
<text x="20.70" y="242.85" font-size="8.7" text-anchor="end">0</text>
<text x="20.70" y="202.90" font-size="8.7" text-anchor="end">1</text>
<text x="20.70" y="162.95" font-size="8.7" text-anchor="end">2</text>
<text x="133.85" y="262.00" font-size="9.8" text-anchor="middle"><tspan font-style="italic">x</tspan>/H</text>
<text transform="translate(11.90,199.55) rotate(-90)" font-size="9.8" text-anchor="middle"><tspan font-style="italic">h</tspan>/H</text>
<text x="128.85" y="287.80" font-size="11.2" text-anchor="middle" style="stroke-width:0.3px"><tspan font-style="italic">β</tspan> = 12°</text>
</g>
<g>
<rect x="321.7" y="159.6" width="220.8" height="79.9" fill="#fff"/>
<polygon points="321.70,239.50 321.70,159.60 410.02,159.60 410.02,169.67 542.50,199.55 542.50,239.50" fill="#ebebeb" stroke="none"/>
<polygon points="410.02,166.11 410.57,166.50 411.12,166.88 411.68,167.26 412.23,167.61 412.78,167.93 413.33,168.23 413.88,168.52 414.44,168.79 414.99,169.04 415.54,169.29 416.09,169.52 416.64,169.75 417.20,169.98 417.75,170.20 418.30,170.42 418.85,170.64 419.40,170.86 419.96,171.08 420.51,171.30 421.06,171.52 421.61,171.73 422.16,171.94 422.72,172.14 423.27,172.33 423.82,172.51 424.37,172.69 424.92,172.85 425.48,173.01 426.03,173.16 426.58,173.31 427.13,173.46 427.68,173.61 428.24,173.76 428.79,173.90 429.34,174.03 429.89,174.15 430.44,174.27 431.00,174.40 431.55,174.52 432.10,174.65 432.65,174.77 433.20,174.90 433.76,175.02 434.31,175.15 434.86,175.27 435.41,175.40 435.96,175.52 436.52,175.64 437.07,175.77 437.62,175.89 438.17,176.02 438.72,176.14 439.28,176.27 439.83,176.39 440.38,176.52 440.93,176.64 441.48,176.77 442.04,176.89 442.59,177.01 443.14,177.14 443.69,177.26 444.24,177.39 444.80,177.51 445.35,177.64 445.90,177.76 446.45,177.89 447.00,178.01 447.56,178.13 448.11,178.26 448.66,178.38 449.21,178.51 449.76,178.63 450.32,178.76 450.87,178.88 451.42,179.01 451.97,179.13 452.52,179.26 453.08,179.38 453.63,179.50 454.18,179.63 454.73,179.75 455.28,179.88 455.84,180.00 456.39,180.13 456.94,180.25 457.49,180.38 458.04,180.50 458.60,180.62 459.15,180.75 459.70,180.87 460.25,181.00 460.80,181.12 461.36,181.25 461.91,181.37 462.46,181.50 463.01,181.62 463.56,181.75 464.12,181.87 464.67,181.99 465.22,182.12 465.77,182.24 466.32,182.37 466.88,182.49 467.43,182.62 467.98,182.74 468.53,182.87 469.08,182.99 469.64,183.11 470.19,183.24 470.74,183.36 471.29,183.49 471.84,183.61 472.40,183.74 472.95,183.86 473.50,183.99 474.05,184.11 474.60,184.24 475.16,184.36 475.71,184.48 476.26,184.61 476.81,184.73 477.36,184.86 477.92,184.98 478.47,185.11 479.02,185.23 479.57,185.36 480.12,185.48 480.68,185.61 481.23,185.68 481.78,185.76 482.33,185.83 482.88,185.90 483.44,185.98 483.99,186.05 484.54,186.12 485.09,186.20 485.64,186.27 486.20,186.34 486.75,186.42 487.30,186.49 487.85,186.57 488.40,186.64 488.96,186.72 489.51,186.80 490.06,186.88 490.61,186.96 491.16,187.04 491.72,187.13 492.27,187.21 492.82,187.30 493.37,187.39 493.92,187.48 494.48,187.56 495.03,187.65 495.58,187.74 496.13,187.83 496.68,187.92 497.24,188.01 497.79,188.11 498.34,188.20 498.89,188.29 499.44,188.39 500.00,188.49 500.55,188.58 501.10,188.68 501.65,188.78 502.20,188.88 502.76,188.99 503.31,189.09 503.86,189.19 504.41,189.30 504.96,189.40 505.52,189.50 506.07,189.61 506.62,189.71 507.17,189.81 507.72,189.92 508.28,190.02 508.83,190.13 509.38,190.23 509.93,190.34 510.48,190.45 511.04,190.56 511.59,190.67 512.14,190.78 512.69,190.89 513.24,191.00 513.80,191.11 514.35,191.23 514.90,191.34 515.45,191.46 516.00,191.58 516.56,191.70 517.11,191.83 517.66,191.95 518.21,192.08 518.76,192.21 519.32,192.34 519.87,192.47 520.42,192.61 520.97,192.74 521.52,192.88 522.08,193.02 522.63,193.16 523.18,193.31 523.73,193.45 524.28,193.60 524.84,193.75 525.39,193.90 525.94,194.05 526.49,194.20 527.04,194.35 527.60,194.50 528.15,194.65 528.70,194.81 529.25,194.96 529.80,195.12 530.36,195.29 530.91,195.47 531.46,195.65 532.01,195.84 532.56,196.03 533.12,196.23 533.67,196.43 534.22,196.64 534.77,196.84 535.32,197.05 535.88,197.26 536.43,197.48 536.98,197.72 537.53,197.98 538.08,198.24 538.64,198.48 539.19,198.71 539.74,198.90 540.29,199.05 540.84,199.18 541.40,199.30 541.95,199.43 542.50,199.55 542.50,199.55 410.02,169.67" fill="#a2ecfb" stroke="none"/>
<polyline points="321.70,239.50 321.70,159.60 410.02,159.60 410.02,169.67" fill="none" stroke="#707070" stroke-width="0.9"/>
<line x1="410.02" y1="169.67" x2="542.50" y2="199.55" stroke="#5a5aae" stroke-width="0.75"/>
<polyline points="542.90,199.55 542.90,239.70 321.70,239.70" fill="none" stroke="#a8a8a8" stroke-width="0.9"/>
<polyline points="410.02,166.11 410.57,166.50 411.12,166.88 411.68,167.26 412.23,167.61 412.78,167.93 413.33,168.23 413.88,168.52 414.44,168.79 414.99,169.04 415.54,169.29 416.09,169.52 416.64,169.75 417.20,169.98 417.75,170.20 418.30,170.42 418.85,170.64 419.40,170.86 419.96,171.08 420.51,171.30 421.06,171.52 421.61,171.73 422.16,171.94 422.72,172.14 423.27,172.33 423.82,172.51 424.37,172.69 424.92,172.85 425.48,173.01 426.03,173.16 426.58,173.31 427.13,173.46 427.68,173.61 428.24,173.76 428.79,173.90 429.34,174.03 429.89,174.15 430.44,174.27 431.00,174.40 431.55,174.52 432.10,174.65 432.65,174.77 433.20,174.90 433.76,175.02 434.31,175.15 434.86,175.27 435.41,175.40 435.96,175.52 436.52,175.64 437.07,175.77 437.62,175.89 438.17,176.02 438.72,176.14 439.28,176.27 439.83,176.39 440.38,176.52 440.93,176.64 441.48,176.77 442.04,176.89 442.59,177.01 443.14,177.14 443.69,177.26 444.24,177.39 444.80,177.51 445.35,177.64 445.90,177.76 446.45,177.89 447.00,178.01 447.56,178.13 448.11,178.26 448.66,178.38 449.21,178.51 449.76,178.63 450.32,178.76 450.87,178.88 451.42,179.01 451.97,179.13 452.52,179.26 453.08,179.38 453.63,179.50 454.18,179.63 454.73,179.75 455.28,179.88 455.84,180.00 456.39,180.13 456.94,180.25 457.49,180.38 458.04,180.50 458.60,180.62 459.15,180.75 459.70,180.87 460.25,181.00 460.80,181.12 461.36,181.25 461.91,181.37 462.46,181.50 463.01,181.62 463.56,181.75 464.12,181.87 464.67,181.99 465.22,182.12 465.77,182.24 466.32,182.37 466.88,182.49 467.43,182.62 467.98,182.74 468.53,182.87 469.08,182.99 469.64,183.11 470.19,183.24 470.74,183.36 471.29,183.49 471.84,183.61 472.40,183.74 472.95,183.86 473.50,183.99 474.05,184.11 474.60,184.24 475.16,184.36 475.71,184.48 476.26,184.61 476.81,184.73 477.36,184.86 477.92,184.98 478.47,185.11 479.02,185.23 479.57,185.36 480.12,185.48 480.68,185.61 481.23,185.68 481.78,185.76 482.33,185.83 482.88,185.90 483.44,185.98 483.99,186.05 484.54,186.12 485.09,186.20 485.64,186.27 486.20,186.34 486.75,186.42 487.30,186.49 487.85,186.57 488.40,186.64 488.96,186.72 489.51,186.80 490.06,186.88 490.61,186.96 491.16,187.04 491.72,187.13 492.27,187.21 492.82,187.30 493.37,187.39 493.92,187.48 494.48,187.56 495.03,187.65 495.58,187.74 496.13,187.83 496.68,187.92 497.24,188.01 497.79,188.11 498.34,188.20 498.89,188.29 499.44,188.39 500.00,188.49 500.55,188.58 501.10,188.68 501.65,188.78 502.20,188.88 502.76,188.99 503.31,189.09 503.86,189.19 504.41,189.30 504.96,189.40 505.52,189.50 506.07,189.61 506.62,189.71 507.17,189.81 507.72,189.92 508.28,190.02 508.83,190.13 509.38,190.23 509.93,190.34 510.48,190.45 511.04,190.56 511.59,190.67 512.14,190.78 512.69,190.89 513.24,191.00 513.80,191.11 514.35,191.23 514.90,191.34 515.45,191.46 516.00,191.58 516.56,191.70 517.11,191.83 517.66,191.95 518.21,192.08 518.76,192.21 519.32,192.34 519.87,192.47 520.42,192.61 520.97,192.74 521.52,192.88 522.08,193.02 522.63,193.16 523.18,193.31 523.73,193.45 524.28,193.60 524.84,193.75 525.39,193.90 525.94,194.05 526.49,194.20 527.04,194.35 527.60,194.50 528.15,194.65 528.70,194.81 529.25,194.96 529.80,195.12 530.36,195.29 530.91,195.47 531.46,195.65 532.01,195.84 532.56,196.03 533.12,196.23 533.67,196.43 534.22,196.64 534.77,196.84 535.32,197.05 535.88,197.26 536.43,197.48 536.98,197.72 537.53,197.98 538.08,198.24 538.64,198.48 539.19,198.71 539.74,198.90 540.29,199.05 540.84,199.18 541.40,199.30 541.95,199.43 542.50,199.55" fill="none" stroke="#4a4ae6" stroke-width="1.0" stroke-dasharray="2,1"/>
<line x1="321.70" y1="239.5" x2="321.70" y2="237.3" stroke="#b0b0b0" stroke-width="0.6"/>
<line x1="365.86" y1="239.5" x2="365.86" y2="237.3" stroke="#b0b0b0" stroke-width="0.6"/>
<line x1="410.02" y1="239.5" x2="410.02" y2="237.3" stroke="#b0b0b0" stroke-width="0.6"/>
<line x1="454.18" y1="239.5" x2="454.18" y2="237.3" stroke="#b0b0b0" stroke-width="0.6"/>
<line x1="498.34" y1="239.5" x2="498.34" y2="237.3" stroke="#b0b0b0" stroke-width="0.6"/>
<line x1="542.50" y1="239.5" x2="542.50" y2="237.3" stroke="#b0b0b0" stroke-width="0.6"/>
<line x1="321.7" y1="239.50" x2="323.9" y2="239.50" stroke="#b0b0b0" stroke-width="0.6"/>
<line x1="321.7" y1="199.55" x2="323.9" y2="199.55" stroke="#b0b0b0" stroke-width="0.6"/>
<line x1="321.7" y1="159.60" x2="323.9" y2="159.60" stroke="#b0b0b0" stroke-width="0.6"/>
<rect x="322.70" y="214.50" width="82.5" height="20.3" fill="#fff" stroke="none"/>
<rect x="327.50" y="216.10" width="15.3" height="6.9" fill="#ebebeb" stroke="#858585" stroke-width="0.7"/>
<rect x="327.50" y="225.90" width="15.3" height="7.0" fill="#a2ecfb" stroke="none"/>
<text x="345.80" y="222.80" font-size="8.2">Stepped flat roofs</text>
<text x="345.80" y="232.50" font-size="8.2">Snow</text>
<text x="321.70" y="250.90" font-size="8.7" text-anchor="middle">-2</text>
<text x="365.86" y="250.90" font-size="8.7" text-anchor="middle">-1</text>
<text x="410.02" y="250.90" font-size="8.7" text-anchor="middle">0</text>
<text x="454.18" y="250.90" font-size="8.7" text-anchor="middle">1</text>
<text x="498.34" y="250.90" font-size="8.7" text-anchor="middle">2</text>
<text x="542.50" y="250.90" font-size="8.7" text-anchor="middle">3</text>
<text x="318.90" y="242.85" font-size="8.7" text-anchor="end">0</text>
<text x="318.90" y="202.90" font-size="8.7" text-anchor="end">1</text>
<text x="318.90" y="162.95" font-size="8.7" text-anchor="end">2</text>
<text x="432.10" y="262.00" font-size="9.8" text-anchor="middle"><tspan font-style="italic">x</tspan>/H</text>
<text transform="translate(310.10,199.55) rotate(-90)" font-size="9.8" text-anchor="middle"><tspan font-style="italic">h</tspan>/H</text>
<text x="427.10" y="287.80" font-size="11.2" text-anchor="middle" style="stroke-width:0.3px"><tspan font-style="italic">β</tspan> = 14°</text>
</g></svg>
</body></html>
